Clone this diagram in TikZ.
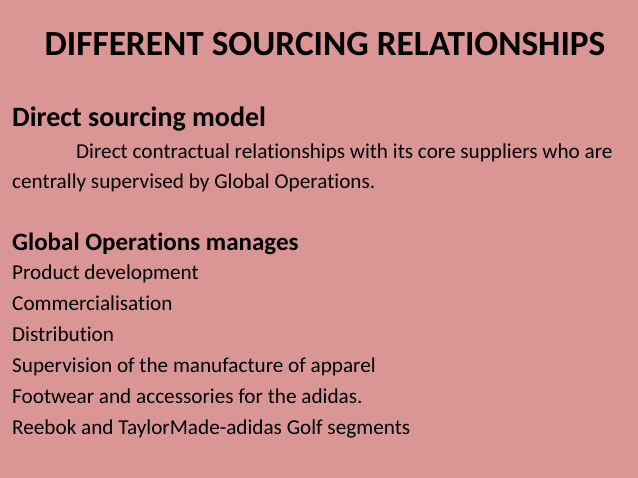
\documentclass[tikz,border=0pt]{standalone}
\usepackage{fontspec}
\setmainfont{Carlito}[RawFeature={-liga;-calt;-dlig;-clig}]
\definecolor{slidebg}{RGB}{217,150,148}
\begin{document}
\begin{tikzpicture}[x=1pt,y=-1pt,
        heading/.style={anchor=base west,inner sep=0pt,font=\bfseries\fontsize{#1}{30}\selectfont},
        body/.style={anchor=base west,inner sep=0pt,font=\fontsize{21.2}{25}\selectfont}
    ]
    \fill[slidebg] (0,0) rectangle (638,478);
    \node[anchor=base,inner sep=0pt,font=\bfseries\fontsize{35.3}{38}\selectfont] (title) at (325,56) {DIFFERENT SOURCING RELATIONSHIPS};
    \node[heading=28] (direct) at (12,127) {Direct sourcing model};
    \node[body] (desc1) at (76,159) {Direct contractual relationships with its core suppliers who are};
    \node[body] (desc2) at (12,189) {centrally supervised by Global Operations.};
    \node[heading=25] (global) at (12,251) {Global Operations manages};
    \node[body] (item1) at (12,280) {Product development};
    \node[body] (item2) at (12,311) {Commercialisation};
    \node[body] (item3) at (12,342) {Distribution};
    \node[body] (item4) at (12,373) {Supervision of the manufacture of apparel};
    \node[body] (item5) at (12,404) {Footwear and accessories for the adidas.};
    \node[body] (item6) at (12,435) {Reebok and TaylorMade-adidas Golf segments};
\end{tikzpicture}
\end{document}
